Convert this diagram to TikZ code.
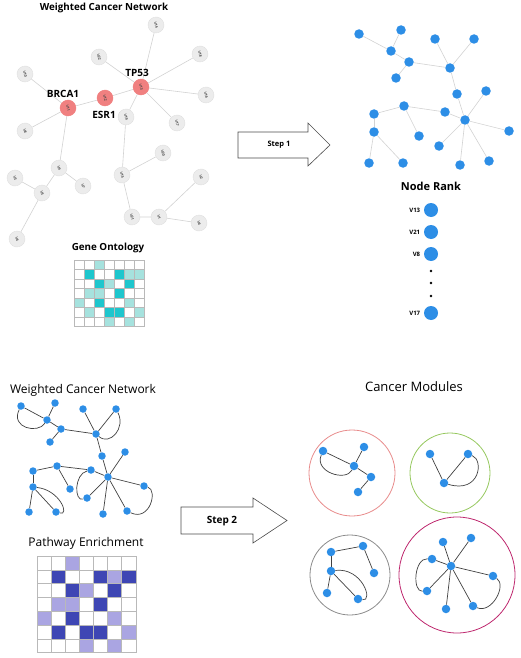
\documentclass[tikz,border=0pt]{standalone}
\usepackage{fontspec}
\setmainfont{Open Sans}
\usetikzlibrary{positioning,backgrounds}
\definecolor{salmon}{RGB}{240,128,128}
\definecolor{nodeblue}{RGB}{45,142,230}
\definecolor{tdark}{RGB}{30,198,205}
\definecolor{tlight}{RGB}{166,226,222}
\definecolor{idark}{RGB}{62,70,180}
\definecolor{ilight}{RGB}{170,165,226}
\definecolor{ringpink}{RGB}{232,140,140}
\definecolor{ringgreen}{RGB}{150,200,95}
\definecolor{ringgray}{RGB}{140,140,140}
\definecolor{ringmag}{RGB}{190,40,110}
\begin{document}
\begin{tikzpicture}[x=1pt,y=1pt]
\tikzstyle{every node}+=[inner sep=0pt]
\tikzstyle{gnode}=[circle,fill=gray!15,draw=gray!25,minimum size=16pt,text=black!70,rotate=-75,font=\fontsize{3.6}{3.6}\selectfont\bfseries]
\tikzstyle{rnode}=[gnode,fill=salmon,draw=salmon]
\tikzstyle{bnode}=[circle,fill=nodeblue,minimum size=9.5pt]
\tikzstyle{snode}=[circle,fill=nodeblue,minimum size=7.5pt]
\tikzstyle{mnode}=[circle,fill=nodeblue,minimum size=8.5pt]
\tikzstyle{gedge}=[gray!35,line width=0.6pt]
\tikzstyle{kedge}=[black!75,line width=0.7pt]
\tikzstyle{gline}=[gray!55,line width=0.4pt]
\tikzstyle{btitle}=[font=\fontsize{9.8}{11}\selectfont\bfseries]
\tikzstyle{ntitle}=[font=\fontsize{12}{14}\selectfont]
\tikzstyle{bigarrow}=[draw=black!70,fill=white,line width=0.6pt]
\useasboundingbox (0,0) rectangle (520,-658);
\node[btitle] (wcn1) at (104,-8) {Weighted Cancer Network};
\node[gnode] (v14) at (156,-25) {V14};
\node[gnode] (v22) at (99,-57) {V22};
\node[gnode] (v18) at (200,-54) {V18};
\node[gnode] (v10) at (25,-74) {V10};
\node[rnode] (v13) at (141,-87) {V13};
\node[gnode] (v16) at (206,-95) {V16};
\node[rnode] (v12) at (105,-98) {V12};
\node[rnode] (v11) at (68,-108) {V11};
\node[gnode] (v19) at (126,-117) {V19};
\node[gnode] (v17) at (177,-123) {V17};
\node[gnode] (v8) at (25,-131) {V8};
\node[gnode] (v9) at (59,-168) {V9};
\node[gnode] (v3) at (15,-178) {V3};
\node[gnode] (v5) at (42,-193) {V5};
\node[gnode] (v7) at (83,-186) {V7};
\node[gnode] (v4) at (17,-239) {V4};
\node[gnode] (v15) at (122,-175) {V15};
\node[gnode] (v20) at (163,-153) {V20};
\node[gnode] (v21) at (132,-217) {V21};
\node[gnode] (v1) at (159,-217) {V1};
\node[gnode] (v2) at (201,-177) {V2};
\node[gnode] (v6) at (199,-223) {V6};
\begin{pgfonlayer}{background}
\foreach \a/\b in {v13/v14,v13/v22,v13/v18,v13/v16,v13/v17,v13/v19,v13/v12,v12/v11,v11/v10,v11/v8,v11/v9,v9/v7,v9/v5,v5/v3,v5/v4,v19/v15,v15/v20,v15/v21,v21/v1,v1/v2,v1/v6}
  \draw[gedge] (\a) -- (\b);
\end{pgfonlayer}
\node[font=\fontsize{10}{12}\selectfont\bfseries] (tp53) at (137,-73) {TP53};
\node[font=\fontsize{10}{12}\selectfont\bfseries] (brca1) at (63,-94) {BRCA1};
\node[font=\fontsize{10}{12}\selectfont\bfseries] (esr1) at (104,-115) {ESR1};
\node[btitle] (go) at (108,-248) {Gene Ontology};
\foreach \c/\r in {2/0,5/1,6/1,3/2,1/3,2/3,0/4,5/4,1/5,6/5,3/6,5/6}
  \fill[tlight] ({74+10*\c},{-260-9.5*\r}) rectangle ++(10,-9.5);
\foreach \c/\r in {1/1,4/1,2/2,5/2,4/3,2/4,3/5,4/5}
  \fill[tdark] ({74+10*\c},{-260-9.5*\r}) rectangle ++(10,-9.5);
\foreach \i in {0,...,7} {
  \draw[gline] ({74+10*\i},-260) -- ({74+10*\i},-326.5);
  \draw[gline] (74,{-260-9.5*\i}) -- (144,{-260-9.5*\i});
}
\draw[bigarrow] (238,-132) -- (308,-132) -- (308,-123) -- (330,-145) -- (308,-166) -- (308,-158) -- (238,-158) -- cycle;
\node[font=\fontsize{7.5}{9}\selectfont\bfseries] (step1) at (279,-145) {Step 1};
\node[bnode] (p1) at (359,-34) {};
\node[bnode] (p2) at (401,-30) {};
\node[bnode] (p3) at (391,-51) {};
\node[bnode] (p4) at (409,-62) {};
\node[bnode] (p5) at (396,-78) {};
\node[bnode] (p6) at (435,-39) {};
\node[bnode] (p7) at (474,-39) {};
\node[bnode] (p8) at (450,-68) {};
\node[bnode] (p9) at (457,-94) {};
\node[bnode] (p10) at (486,-91) {};
\node[bnode] (p11) at (465,-120) {};
\node[bnode] (p12) at (509,-131) {};
\node[bnode] (p13) at (445,-112) {};
\node[bnode] (p14) at (404,-106) {};
\node[bnode] (p15) at (374,-114) {};
\node[bnode] (p16) at (374,-132) {};
\node[bnode] (p17) at (419,-136) {};
\node[bnode] (p18) at (439,-146) {};
\node[bnode] (p19) at (369,-163) {};
\node[bnode] (p20) at (403,-163) {};
\node[bnode] (p21) at (460,-165) {};
\node[bnode] (p22) at (489,-161) {};
\begin{pgfonlayer}{background}
\foreach \a/\b in {p1/p3,p2/p3,p3/p4,p4/p5,p4/p8,p8/p6,p8/p7,p8/p9,p9/p11,p11/p10,p11/p12,p11/p13,p13/p14,p14/p15,p14/p17,p15/p16,p16/p19,p16/p20,p11/p18,p11/p21,p11/p22}
  \draw[gedge] (\a) -- (\b);
\end{pgfonlayer}
\node[font=\fontsize{11}{13}\selectfont\bfseries] (rank) at (431,-186) {Node Rank};
\node[circle,fill=nodeblue,minimum size=14pt] (r1) at (431,-210) {};
\node[circle,fill=nodeblue,minimum size=14pt] (r2) at (431,-232) {};
\node[circle,fill=nodeblue,minimum size=14pt] (r3) at (431,-254) {};
\node[circle,fill=nodeblue,minimum size=14pt] (r4) at (431,-313) {};
\foreach \y [count=\k] in {-271,-283,-296}
  \node[circle,fill=black,minimum size=2.6pt] (dot\k) at (431,\y) {};
\foreach \n/\t in {r1/V13,r2/V21,r3/V8,r4/V17}
  \node[font=\fontsize{6}{7}\selectfont\bfseries,left=3.5pt of \n] {\t};
\node[ntitle] (wcn2) at (83,-390) {Weighted Cancer Network};
\node[snode] (b1) at (21,-406) {};
\node[snode] (b2) at (55,-403) {};
\node[snode] (b3) at (47,-420) {};
\node[snode] (b4) at (61,-429) {};
\node[snode] (b5) at (50,-442) {};
\node[snode] (b6) at (83,-409) {};
\node[snode] (b7) at (116,-409) {};
\node[snode] (b8) at (96,-434) {};
\node[snode] (b9) at (102,-456) {};
\node[snode] (b10) at (125,-452) {};
\node[snode] (b11) at (108,-477) {};
\node[snode] (b12) at (144,-486) {};
\node[snode] (b13) at (91,-470) {};
\node[snode] (b14) at (57,-466) {};
\node[snode] (b15) at (33,-471) {};
\node[snode] (b16) at (33,-487) {};
\node[snode] (b17) at (70,-489) {};
\node[snode] (b18) at (87,-498) {};
\node[snode] (b19) at (29,-512) {};
\node[snode] (b20) at (56,-512) {};
\node[snode] (b21) at (103,-514) {};
\node[snode] (b22) at (127,-511) {};
\begin{pgfonlayer}{background}
\foreach \a/\b in {b1/b3,b2/b3,b3/b4,b4/b5,b4/b8,b8/b6,b8/b7,b8/b9,b9/b11,b11/b10,b11/b12,b11/b13,b13/b14,b14/b15,b14/b17,b15/b16,b16/b19,b16/b20,b11/b18,b11/b21,b11/b22}
  \draw[kedge] (\a) -- (\b);
\draw[kedge] (b1) .. controls (10,-428) and (38,-434) .. (b3);
\draw[kedge] (b7) .. controls (126,-428) and (110,-446) .. (b8);
\draw[kedge] (b13) .. controls (74,-474) and (74,-502) .. (b18);
\draw[kedge] (b16) .. controls (60,-490) and (70,-516) .. (b20);
\draw[kedge] (b12) .. controls (158,-490) and (150,-522) .. (b22);
\end{pgfonlayer}
\node[ntitle] (pe) at (86,-543) {Pathway Enrichment};
\foreach \c/\r in {2/0,5/1,3/2,1/3,2/3,0/4,5/4,6/5,3/6,5/6}
  \fill[ilight] ({37+14.1*\c},{-556-13.8*\r}) rectangle ++(14.1,-13.8);
\foreach \c/\r in {1/1,4/1,6/1,2/2,5/2,4/3,2/4,1/5,3/5,4/5}
  \fill[idark] ({37+14.1*\c},{-556-13.8*\r}) rectangle ++(14.1,-13.8);
\foreach \i in {0,...,7} {
  \draw[gline] ({37+14.1*\i},-556) -- ({37+14.1*\i},-652.6);
  \draw[gline] (37,{-556-13.8*\i}) -- (135.7,{-556-13.8*\i});
}
\draw[bigarrow] (181,-507) -- (253,-507) -- (253,-498) -- (287,-520.5) -- (253,-543) -- (253,-534) -- (181,-534) -- cycle;
\node[font=\fontsize{10}{12}\selectfont\bfseries] (step2) at (222,-521) {Step 2};
\node[font=\fontsize{13}{15}\selectfont] (cm) at (414,-387) {Cancer Modules};
\draw[ringpink,line width=0.8pt] (352,-473) circle (43);
\draw[ringgreen,line width=0.8pt] (450,-473) circle (40);
\draw[ringgray,line width=0.8pt] (350,-575) circle (40);
\draw[ringmag,line width=0.8pt] (457,-575) circle (58);
\node[mnode] (m1a) at (323,-451) {};
\node[mnode] (m1b) at (364,-447) {};
\node[mnode] (m1c) at (354,-466) {};
\node[mnode] (m1d) at (371,-477) {};
\node[mnode] (m1e) at (358,-492) {};
\node[mnode] (m2a) at (430,-454) {};
\node[mnode] (m2b) at (468,-454) {};
\node[mnode] (m2c) at (444,-483) {};
\node[mnode] (m3a) at (331,-552) {};
\node[mnode] (m3b) at (363,-546) {};
\node[mnode] (m3c) at (374,-573) {};
\node[mnode] (m3d) at (331,-571) {};
\node[mnode] (m3e) at (327,-593) {};
\node[mnode] (m3f) at (358,-599) {};
\node[mnode] (m4a) at (443,-542) {};
\node[mnode] (m4b) at (471,-538) {};
\node[mnode] (m4c) at (451,-566) {};
\node[mnode] (m4d) at (432,-559) {};
\node[mnode] (m4e) at (427,-591) {};
\node[mnode] (m4f) at (493,-576) {};
\node[mnode] (m4g) at (473,-606) {};
\node[mnode] (m4h) at (446,-609) {};
\begin{pgfonlayer}{background}
\foreach \a/\b in {m1a/m1c,m1b/m1c,m1c/m1d,m1d/m1e,m2a/m2c,m2b/m2c,m3a/m3b,m3b/m3c,m3a/m3d,m3d/m3e,m3d/m3f,m4c/m4a,m4c/m4b,m4c/m4d,m4c/m4e,m4c/m4f,m4c/m4g,m4c/m4h}
  \draw[kedge] (\a) -- (\b);
\draw[kedge] (m1a) .. controls (314,-472) and (346,-482) .. (m1c);
\draw[kedge] (m2b) .. controls (484,-460) and (480,-494) .. (m2c);
\draw[kedge] (m3d) .. controls (362,-567) and (374,-602) .. (m3f);
\draw[kedge] (m4d) .. controls (414,-558) and (412,-592) .. (m4e);
\draw[kedge] (m4f) .. controls (507,-585) and (492,-614) .. (m4g);
\end{pgfonlayer}
\end{tikzpicture}
\end{document}
